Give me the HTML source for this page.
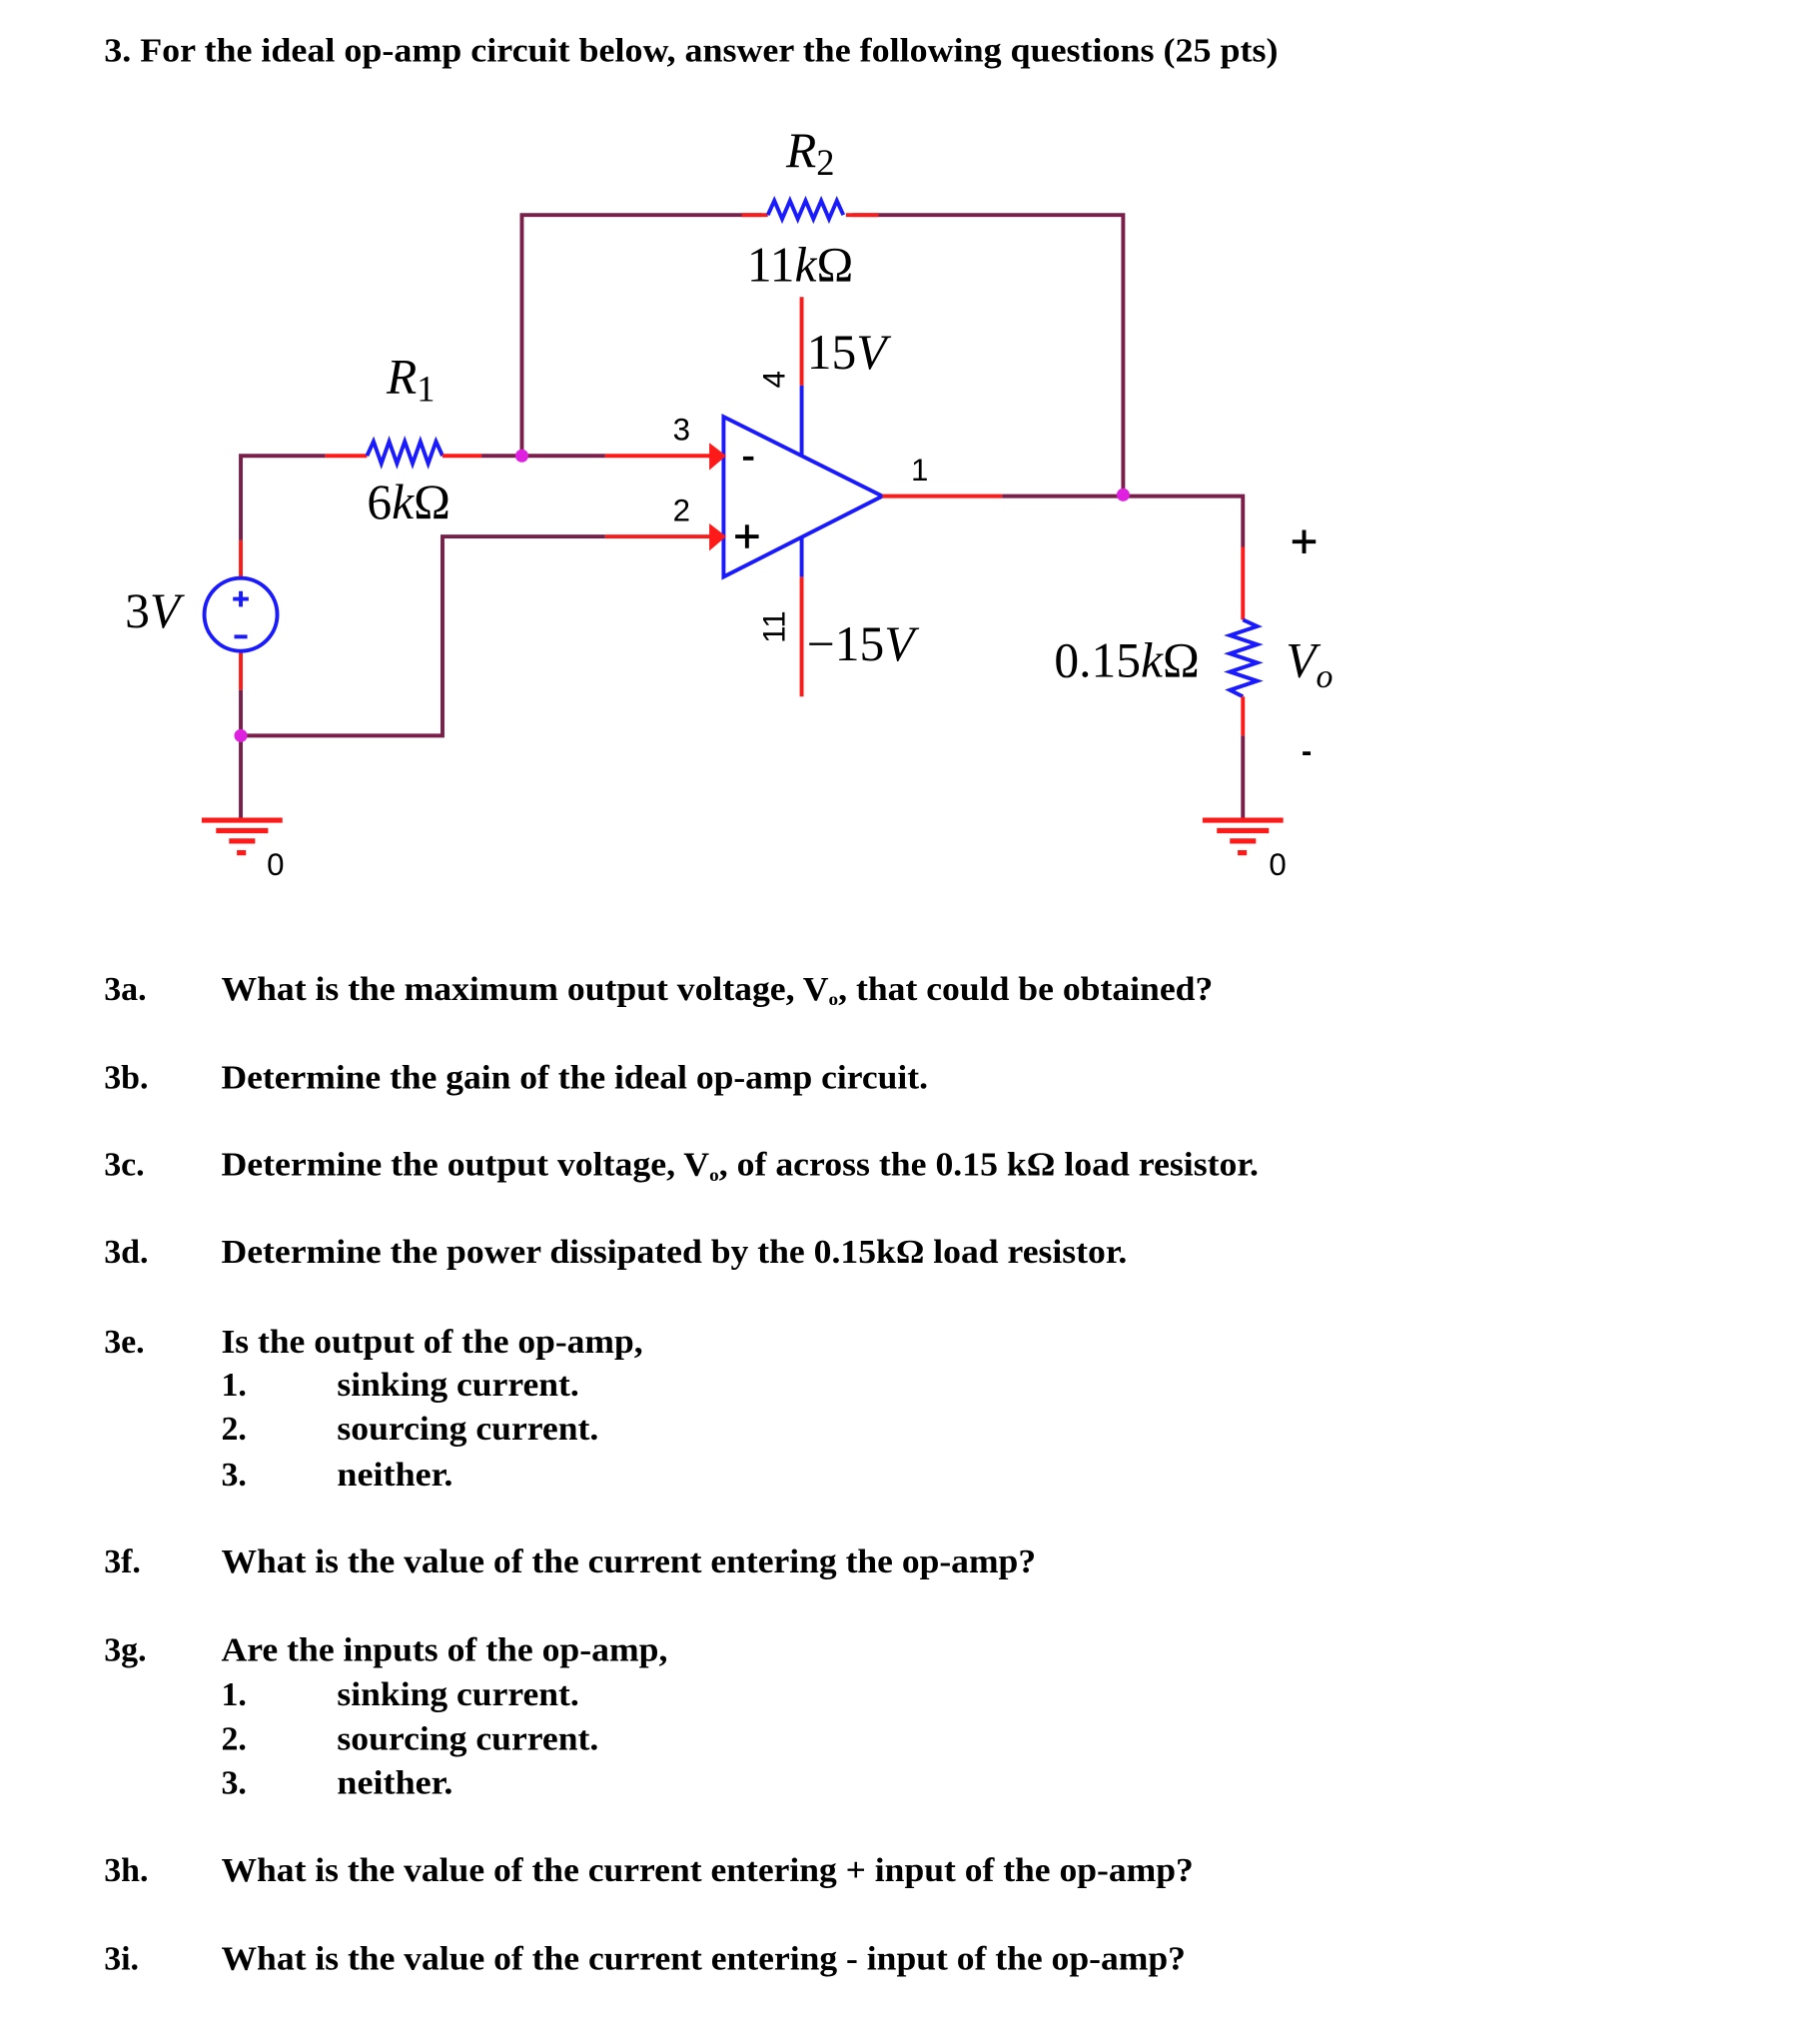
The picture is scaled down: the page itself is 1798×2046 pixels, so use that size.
<!DOCTYPE html>
<html><head><meta charset="utf-8"><style>
html,body{margin:0;padding:0;background:#fff;}
svg{display:block;}
.q{font-family:"Liberation Serif",serif;font-weight:bold;font-size:26px;fill:#000;}
.m{font-family:"Liberation Serif",serif;font-style:italic;font-size:38px;fill:#000;}
.mn{font-family:"Liberation Serif",serif;font-size:38px;fill:#000;}
.s{font-family:"Liberation Sans",sans-serif;font-size:24px;fill:#000;}
</style></head><body>
<svg width="1798" height="2046" viewBox="0 0 1380 1570" xmlns="http://www.w3.org/2000/svg">
<text class="q" x="80" y="47" textLength="902" lengthAdjust="spacingAndGlyphs">3. For the ideal op-amp circuit below, answer the following questions (25 pts)</text>

<g fill="none" stroke-width="3">
<polyline points="401,350 401,165 585,165" stroke="#7a1f4a"/>
<polyline points="655,165 863,165 863,380" stroke="#7a1f4a"/>
<line x1="570" y1="165" x2="590" y2="165" stroke="#ff1a1a"/>
<line x1="650" y1="165" x2="675" y2="165" stroke="#ff1a1a"/>
<polyline points="590,165 595,154 601,168 607,154 613,168 619,154 625,168 631,154 637,168 643,154 648,165" stroke="#1a1aff"/>
<polyline points="185,415 185,350 250,350" stroke="#7a1f4a"/>
<line x1="250" y1="350" x2="282" y2="350" stroke="#ff1a1a"/>
<polyline points="282,350 287,339 293,356 299,339 305,356 311,339 317,356 323,339 329,356 335,339 340,350" stroke="#1a1aff"/>
<line x1="340" y1="350" x2="370" y2="350" stroke="#ff1a1a"/>
<line x1="370" y1="350" x2="465" y2="350" stroke="#7a1f4a"/>
<line x1="465" y1="350" x2="548" y2="350" stroke="#ff1a1a"/>
<polyline points="185,565 340,565 340,412 465,412" stroke="#7a1f4a"/>
<line x1="465" y1="412" x2="548" y2="412" stroke="#ff1a1a"/>
<line x1="185" y1="415" x2="185" y2="444" stroke="#ff1a1a"/>
<line x1="185" y1="500" x2="185" y2="530" stroke="#ff1a1a"/>
<polyline points="185,530 185,628" stroke="#7a1f4a"/>
<circle cx="185" cy="472" r="28" stroke="#1a1aff"/>
<polygon points="556,320 556,443 678,381" stroke="#1a1aff"/>
<line x1="616" y1="228" x2="616" y2="296" stroke="#ff1a1a"/>
<line x1="616" y1="296" x2="616" y2="351" stroke="#1a1aff"/>
<line x1="616" y1="412" x2="616" y2="443" stroke="#1a1aff"/>
<line x1="616" y1="443" x2="616" y2="535" stroke="#ff1a1a"/>
<line x1="678" y1="381" x2="770" y2="381" stroke="#ff1a1a"/>
<polyline points="770,381 955,381 955,420" stroke="#7a1f4a"/>
<line x1="955" y1="420" x2="955" y2="476" stroke="#ff1a1a"/>
<polyline points="955,476 966,481 945,488 966,495 945,502 966,509 945,516 966,523 945,530 955,535" stroke="#1a1aff"/>
<line x1="955" y1="535" x2="955" y2="565" stroke="#ff1a1a"/>
<line x1="955" y1="565" x2="955" y2="628" stroke="#7a1f4a"/>
<g stroke="#ff1a1a" stroke-width="4">
<line x1="155" y1="630" x2="217" y2="630"/><line x1="166" y1="638" x2="206" y2="638"/><line x1="176" y1="646" x2="196" y2="646"/><line x1="182" y1="655" x2="189" y2="655"/>
<line x1="924" y1="630" x2="986" y2="630"/><line x1="935" y1="638" x2="975" y2="638"/><line x1="945" y1="646" x2="965" y2="646"/><line x1="951" y1="655" x2="958" y2="655"/>
</g>
</g>
<g fill="#ff1a1a">
<polygon points="545,340 558,350 545,361"/>
<polygon points="545,402 558,412 545,423"/>
</g>
<g fill="#e020e0">
<circle cx="401" cy="350" r="5"/><circle cx="863" cy="380" r="5"/><circle cx="185" cy="565" r="5"/>
</g>
<g stroke="#1a1aff" stroke-width="3">
<line x1="179" y1="460" x2="191" y2="460"/><line x1="185" y1="454" x2="185" y2="466"/>
<line x1="180" y1="489" x2="190" y2="489"/>
</g>
<g stroke="#000" stroke-width="3">
<line x1="571" y1="352" x2="579" y2="352"/>
<line x1="565" y1="412" x2="583" y2="412"/><line x1="574" y1="403" x2="574" y2="421"/>
<line x1="993" y1="416" x2="1011" y2="416"/><line x1="1002" y1="407" x2="1002" y2="425"/>
</g>

<text class="m" x="604" y="128">R<tspan font-style="normal" font-size="28" dy="6">2</tspan></text>
<text class="mn" x="574" y="216">11<tspan font-style="italic">k</tspan>Ω</text>
<text class="m" x="297" y="302">R<tspan font-style="normal" font-size="28" dy="6">1</tspan></text>
<text class="mn" x="282" y="398">6<tspan font-style="italic">k</tspan>Ω</text>
<text class="mn" x="96" y="482">3<tspan font-style="italic">V</tspan></text>
<text class="mn" x="620" y="283">15<tspan font-style="italic">V</tspan></text>
<text class="mn" x="620" y="507">−15<tspan font-style="italic">V</tspan></text>
<text class="mn" x="810" y="520">0.15<tspan font-style="italic">k</tspan>Ω</text>
<text class="m" x="988" y="520">V<tspan font-size="26" dy="8">o</tspan></text>
<text class="s" x="1000" y="585" font-weight="bold">-</text>
<text class="s" x="517" y="338">3</text>
<text class="s" x="517" y="400">2</text>
<text class="s" x="700" y="369">1</text>
<text class="s" x="0" y="0" transform="translate(603,298) rotate(-90)">4</text>
<text class="s" x="0" y="0" transform="translate(603,494) rotate(-90)">11</text>
<text class="s" x="205" y="672" font-size="26">0</text>
<text class="s" x="975" y="672" font-size="26">0</text>

<g class="q">
<text x="80" y="768">3a.</text><text x="170" y="768" textLength="762" lengthAdjust="spacingAndGlyphs">What is the maximum output voltage, V<tspan font-size="14" dy="4">o</tspan><tspan dy="-4">, that could be obtained?</tspan></text>
<text x="80" y="836">3b.</text><text x="170" y="836" textLength="543" lengthAdjust="spacingAndGlyphs">Determine the gain of the ideal op-amp circuit.</text>
<text x="80" y="903">3c.</text><text x="170" y="903" textLength="797" lengthAdjust="spacingAndGlyphs">Determine the output voltage, V<tspan font-size="14" dy="4">o</tspan><tspan dy="-4">, of across the 0.15 kΩ load resistor.</tspan></text>
<text x="80" y="970">3d.</text><text x="170" y="970" textLength="696" lengthAdjust="spacingAndGlyphs">Determine the power dissipated by the 0.15kΩ load resistor.</text>
<text x="80" y="1039">3e.</text><text x="170" y="1039" textLength="324" lengthAdjust="spacingAndGlyphs">Is the output of the op-amp,</text>
<text x="170" y="1072">1.</text><text x="259" y="1072" textLength="186" lengthAdjust="spacingAndGlyphs">sinking current.</text>
<text x="170" y="1106">2.</text><text x="259" y="1106" textLength="201" lengthAdjust="spacingAndGlyphs">sourcing current.</text>
<text x="170" y="1141">3.</text><text x="259" y="1141" textLength="89" lengthAdjust="spacingAndGlyphs">neither.</text>
<text x="80" y="1208">3f.</text><text x="170" y="1208" textLength="626" lengthAdjust="spacingAndGlyphs">What is the value of the current entering the op-amp?</text>
<text x="80" y="1276">3g.</text><text x="170" y="1276" textLength="343" lengthAdjust="spacingAndGlyphs">Are the inputs of the op-amp,</text>
<text x="170" y="1310">1.</text><text x="259" y="1310" textLength="186" lengthAdjust="spacingAndGlyphs">sinking current.</text>
<text x="170" y="1344">2.</text><text x="259" y="1344" textLength="201" lengthAdjust="spacingAndGlyphs">sourcing current.</text>
<text x="170" y="1378">3.</text><text x="259" y="1378" textLength="89" lengthAdjust="spacingAndGlyphs">neither.</text>
<text x="80" y="1445">3h.</text><text x="170" y="1445" textLength="747" lengthAdjust="spacingAndGlyphs">What is the value of the current entering + input of the op-amp?</text>
<text x="80" y="1513">3i.</text><text x="170" y="1513" textLength="741" lengthAdjust="spacingAndGlyphs">What is the value of the current entering - input of the op-amp?</text>
</g>
</svg>
</body></html>
